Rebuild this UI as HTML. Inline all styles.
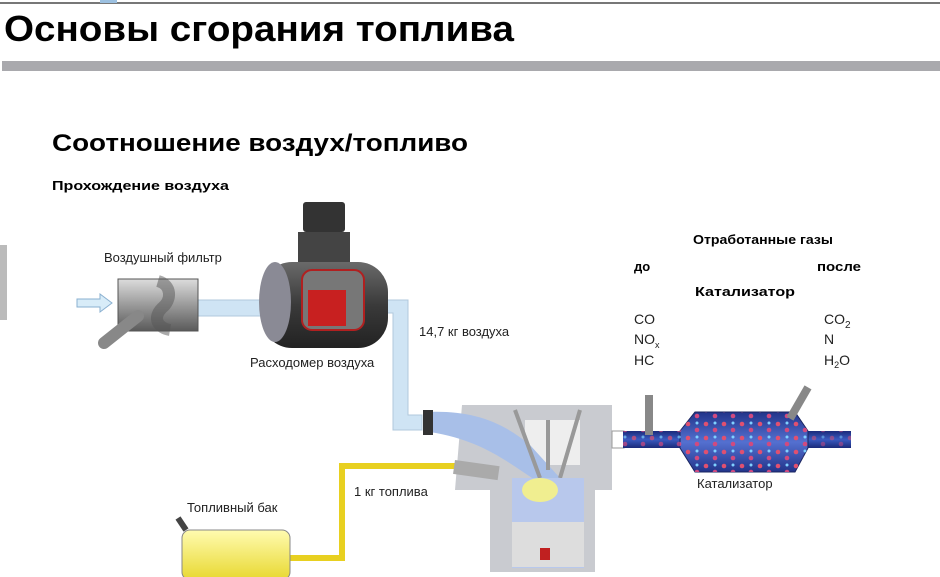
<!DOCTYPE html>
<html><head><meta charset="utf-8"><style>
body{margin:0;width:940px;height:577px;overflow:hidden;background:#fff}
svg{display:block}
text{font-family:"Liberation Sans","DejaVu Sans",sans-serif}
</style></head><body>
<svg width="940" height="577" viewBox="0 0 940 577" xmlns="http://www.w3.org/2000/svg">
<defs>
<linearGradient id="cyl" x1="0" y1="0" x2="0" y2="1"><stop offset="0" stop-color="#dcdcdc"/><stop offset=".5" stop-color="#9a9a9a"/><stop offset="1" stop-color="#5a5a5a"/></linearGradient>
<linearGradient id="maf" x1="0" y1="0" x2="0" y2="1"><stop offset="0" stop-color="#6a6a6a"/><stop offset=".5" stop-color="#3a3a3a"/><stop offset="1" stop-color="#222"/></linearGradient>
<linearGradient id="yel" x1="0" y1="0" x2="0" y2="1"><stop offset="0" stop-color="#fffbb0"/><stop offset="1" stop-color="#e8d830"/></linearGradient>
<linearGradient id="exh" x1="0" y1="0" x2="0" y2="1"><stop offset="0" stop-color="#1a2a7a"/><stop offset=".5" stop-color="#3a5ac0"/><stop offset="1" stop-color="#1a2a7a"/></linearGradient>
<linearGradient id="cat" x1="0" y1="0" x2="0" y2="1"><stop offset="0" stop-color="#22348a"/><stop offset=".5" stop-color="#5470d0"/><stop offset="1" stop-color="#22348a"/></linearGradient>
<pattern id="dots" width="18" height="14" patternUnits="userSpaceOnUse"><circle cx="4" cy="4" r="2.3" fill="#e05070"/><circle cx="13" cy="10" r="2.3" fill="#d04a80"/><circle cx="13" cy="3" r="1.5" fill="#7fd0ff"/></pattern>
</defs>
<rect x="0" y="2" width="940" height="2" fill="#777"/>
<rect x="100" y="0" width="17" height="3" fill="#9cc0e0"/>
<text x="4" y="41" font-size="36" font-weight="bold" fill="#000" textLength="510" lengthAdjust="spacingAndGlyphs">Основы сгорания топлива</text>
<rect x="2" y="61" width="938" height="10" fill="#a9a9ad"/>
<rect x="0" y="245" width="7" height="75" fill="#bbb"/>
<text x="52" y="151" font-size="24" font-weight="bold" textLength="416" lengthAdjust="spacingAndGlyphs">Соотношение воздух/топливо</text>
<text x="52" y="190" font-size="13" font-weight="bold" textLength="177" lengthAdjust="spacingAndGlyphs">Прохождение воздуха</text>

<path d="M386 300 H408 V415 H422 V430 H393 V313 H386 Z" fill="#cfe4f4" stroke="#b0c8dc"/>
<rect x="195" y="300" width="75" height="16" fill="#cfe4f4" stroke="#b0c8dc"/>
<path d="M77 299 H100 V294 L112 303 L100 312 V307 H77 Z" fill="#d8ecf8" stroke="#8ab0d0"/>
<rect x="118" y="279" width="80" height="52" fill="url(#cyl)" stroke="#555"/>
<path d="M158 281 C172 285 172 300 162 308 C152 318 158 328 170 330" stroke="#555" stroke-width="12" fill="none" opacity=".5"/>
<line x1="104" y1="343" x2="138" y2="316" stroke="#888" stroke-width="12" stroke-linecap="round"/>
<text x="104" y="262" font-size="13" fill="#222">Воздушный фильтр</text>
<rect x="303" y="202" width="42" height="30" fill="#333" rx="3"/>
<rect x="298" y="232" width="52" height="30" fill="#444"/>
<rect x="262" y="262" width="126" height="86" rx="30" fill="url(#maf)"/>
<ellipse cx="275" cy="302" rx="16" ry="40" fill="#8a8a95"/>
<rect x="302" y="270" width="62" height="60" rx="10" fill="#777" stroke="#b02020" stroke-width="2"/>
<rect x="308" y="290" width="38" height="36" fill="#c82020"/>
<text x="250" y="367" font-size="13" fill="#222">Расходомер воздуха</text>
<text x="419" y="336" font-size="13" fill="#222">14,7 кг воздуха</text>
<path d="M288 558 H342 V466 H458" stroke="#e8d020" stroke-width="6" fill="none"/>
<rect x="182" y="530" width="108" height="50" rx="8" fill="url(#yel)" stroke="#888"/>
<line x1="186" y1="530" x2="178" y2="518" stroke="#444" stroke-width="6"/>
<text x="187" y="512" font-size="13" fill="#222">Топливный бак</text>
<text x="354" y="496" font-size="13" fill="#222">1 кг топлива</text>
<!-- engine -->
<path d="M462 405 H612 V490 H595 V572 H490 V490 H455 Z" fill="#c9cbd0"/>
<path d="M525 420 H580 V465 H525 Z" fill="#eee"/>
<path d="M425 412 C470 410 500 420 530 445 L560 478 L535 480 C505 460 480 440 430 432 Z" fill="#a8bfe8"/>
<line x1="515" y1="410" x2="540" y2="478" stroke="#999" stroke-width="4"/>
<line x1="580" y1="410" x2="560" y2="478" stroke="#999" stroke-width="4"/>
<line x1="548" y1="420" x2="548" y2="470" stroke="#999" stroke-width="4"/>
<rect x="512" y="478" width="72" height="90" fill="#b8c8ec"/>
<ellipse cx="540" cy="490" rx="18" ry="12" fill="#f0ee90"/>
<rect x="512" y="522" width="72" height="45" fill="#ddd"/>
<rect x="540" y="548" width="10" height="12" fill="#c02020"/>
<rect x="423" y="410" width="10" height="25" fill="#333"/>
<rect x="455" y="460" width="45" height="14" fill="#aaa" transform="rotate(8 455 460)"/>
<!-- exhaust -->
<rect x="612" y="431" width="12" height="17" fill="#fff" stroke="#999"/>
<rect x="623" y="431" width="228" height="17" fill="url(#exh)"/>
<path d="M680 431 L695 412 H795 L808 431 V448 L795 472 H695 L680 448 Z" fill="url(#cat)" stroke="#1a2560"/>
<path d="M680 431 L695 412 H795 L808 431 V448 L795 472 H695 L680 448 Z" fill="url(#dots)"/>
<rect x="623" y="431" width="57" height="17" fill="url(#dots)" opacity=".7"/>
<rect x="808" y="431" width="43" height="17" fill="url(#dots)" opacity=".5"/>
<rect x="645" y="395" width="8" height="40" fill="#888"/>
<rect x="795" y="385" width="8" height="36" fill="#888" transform="rotate(30 799 403)"/>
<text x="697" y="488" font-size="13" fill="#222">Катализатор</text>
<text x="693" y="244" font-size="13" font-weight="bold" textLength="140" lengthAdjust="spacingAndGlyphs">Отработанные газы</text>
<text x="634" y="271" font-size="13" font-weight="bold">до</text>
<text x="817" y="271" font-size="13" font-weight="bold" textLength="44" lengthAdjust="spacingAndGlyphs">после</text>
<text x="695" y="296" font-size="13" font-weight="bold" textLength="100" lengthAdjust="spacingAndGlyphs">Катализатор</text>
<g font-size="14" fill="#222">
<text x="634" y="324">CO</text>
<text x="634" y="344">NO<tspan font-size="9" dy="4">x</tspan></text>
<text x="634" y="365">HC</text>
<text x="824" y="324">CO<tspan font-size="10" dy="4">2</tspan></text>
<text x="824" y="344">N</text>
<text x="824" y="365">H<tspan font-size="9" dy="3">2</tspan><tspan dy="-3">O</tspan></text>
</g>
</svg>
</body></html>
